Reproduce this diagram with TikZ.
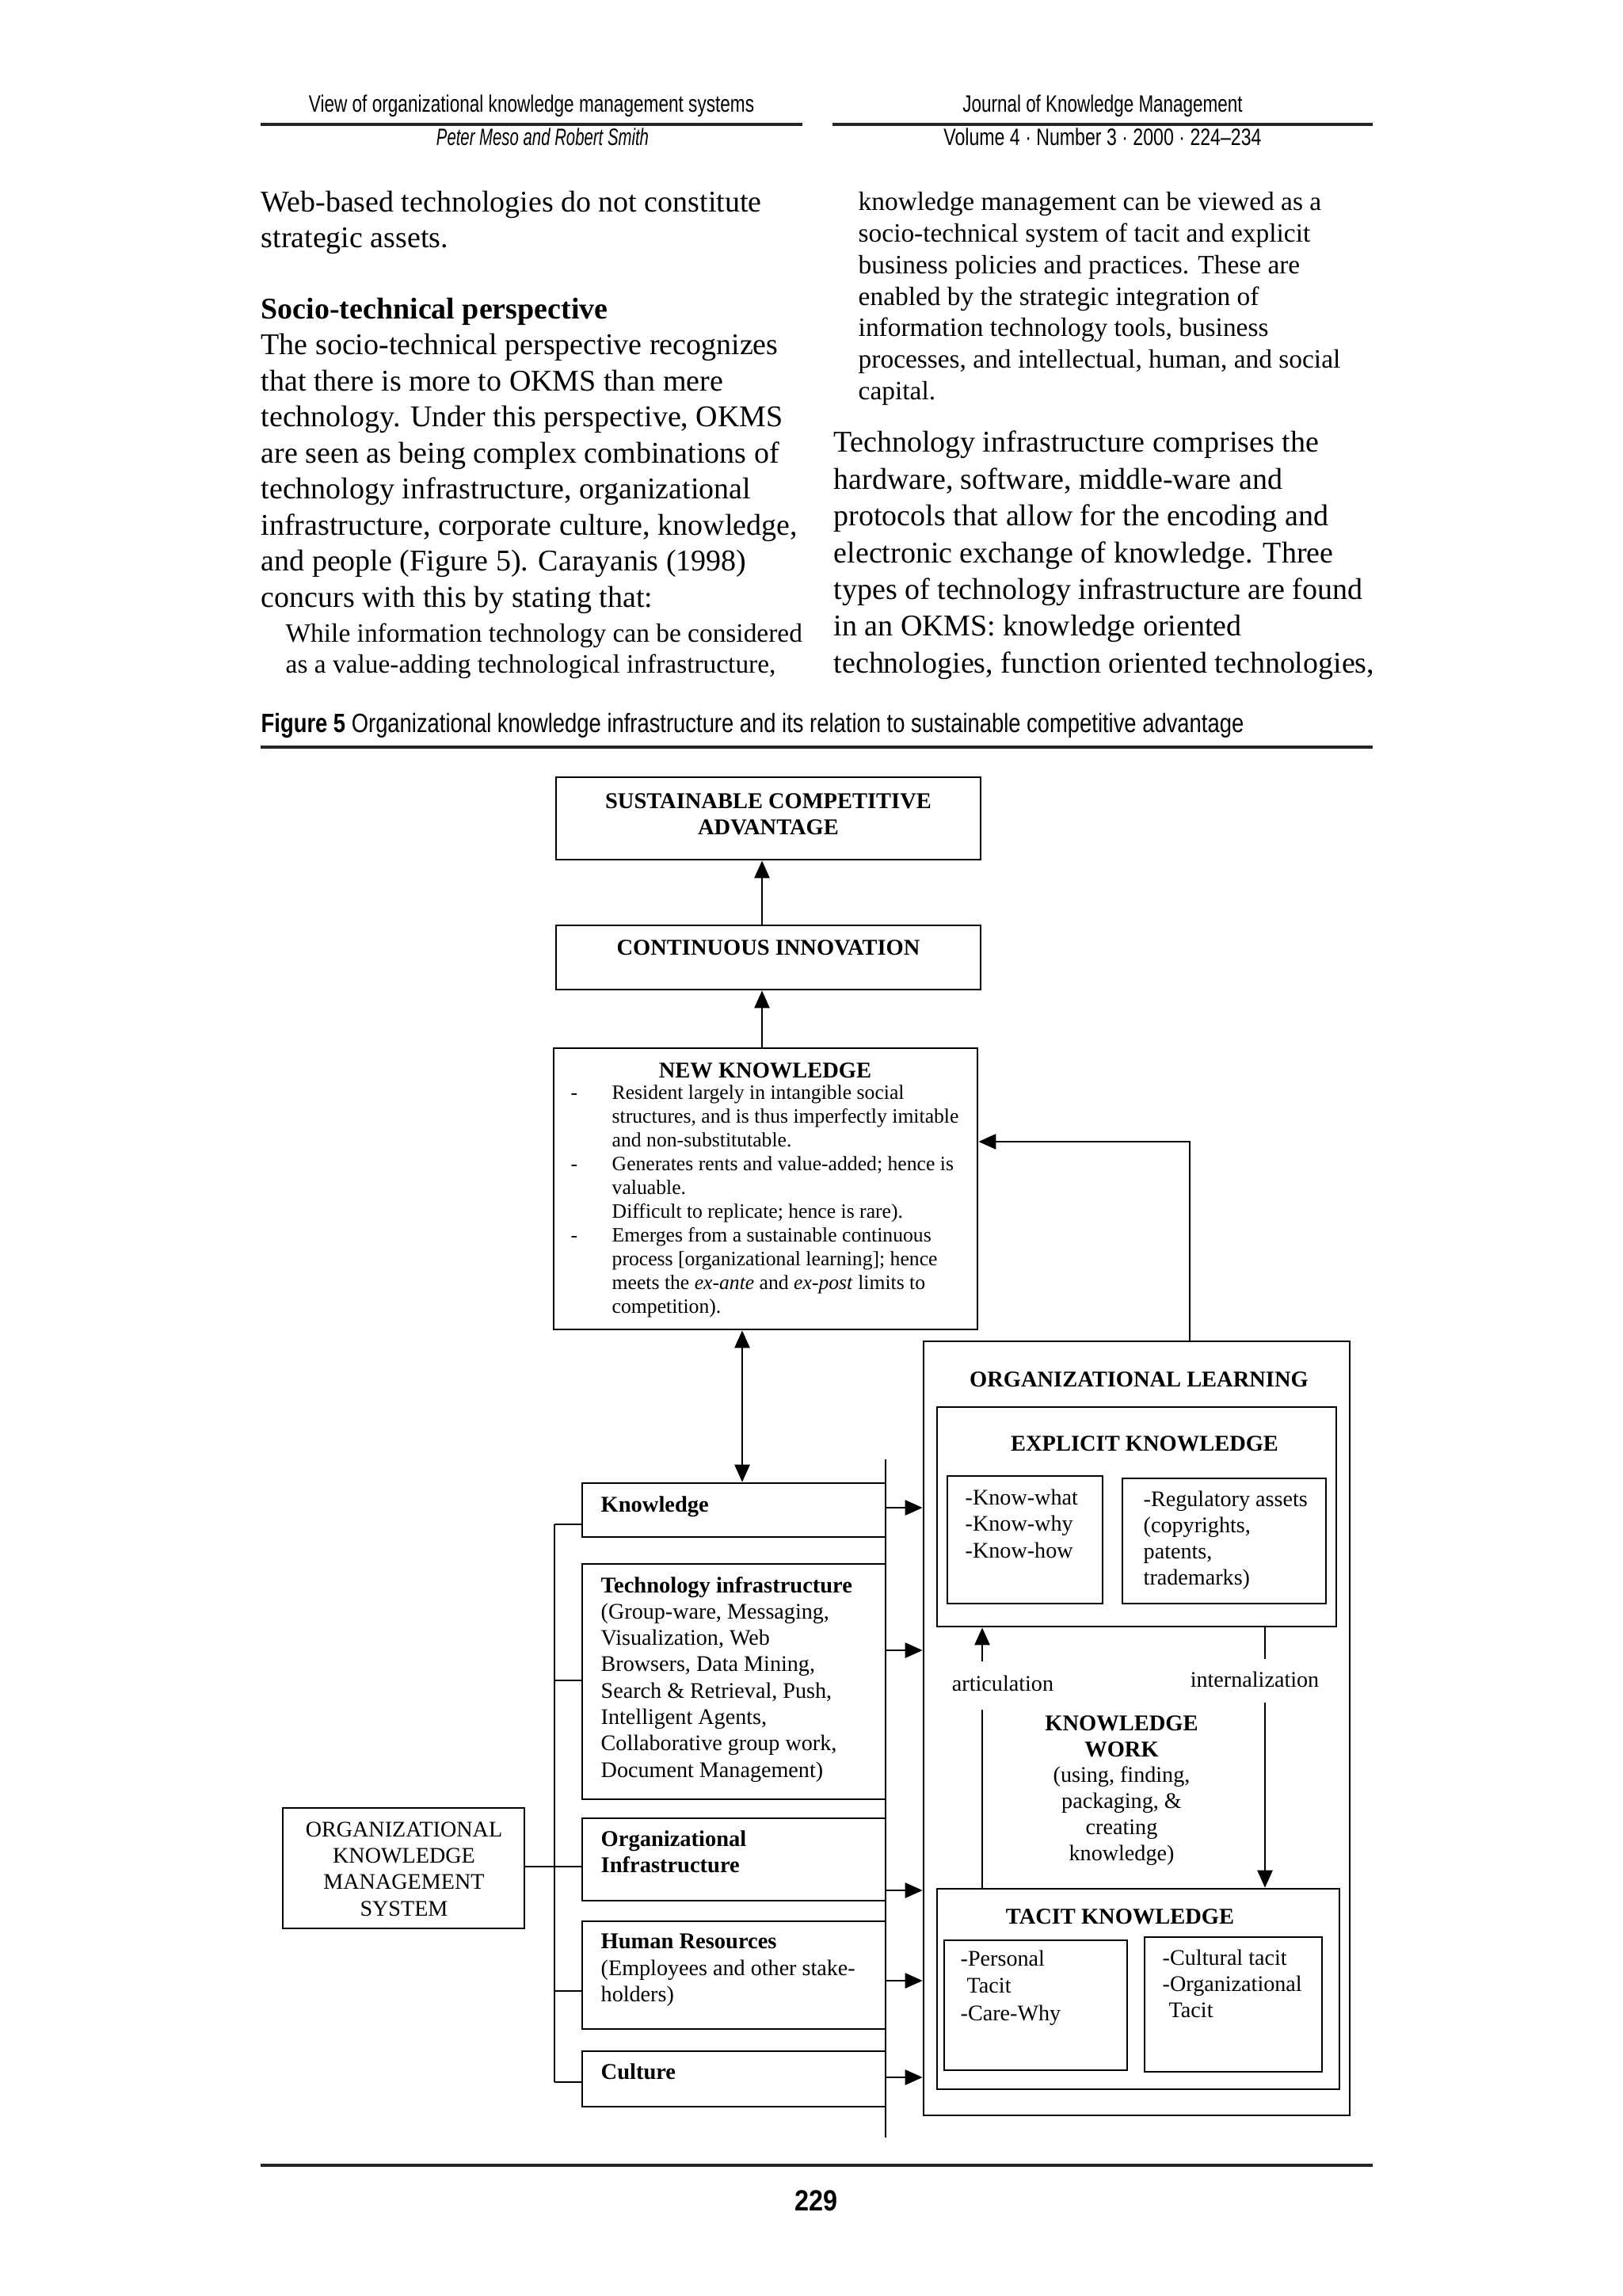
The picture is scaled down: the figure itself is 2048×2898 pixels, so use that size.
\documentclass[tikz,border=0pt]{standalone}
\usepackage{graphicx}
\usepackage{fontspec}
\setmainfont{Liberation Serif}
\newfontfamily\hsans{Liberation Sans}
\usetikzlibrary{arrows.meta,fit}
\newcommand\fitw[2]{\resizebox{#1}{\height}{#2}}
\begin{document}
\begin{tikzpicture}[x=0.01cm,y=-0.01cm,
  box/.style={draw, line width=0.75pt, inner sep=0pt},
  ln/.style={line width=0.75pt},
  arr/.style={line width=0.75pt, -{Triangle[length=0.22cm,width=0.19cm]}},
  dbl/.style={line width=0.75pt, {Triangle[length=0.22cm,width=0.19cm]}-{Triangle[length=0.22cm,width=0.19cm]}},
  rule/.style={line width=1pt, black!85},
  body/.style={font=\fontsize{10.8}{13}\selectfont, anchor=base west, inner sep=0pt},
  quotetxt/.style={font=\fontsize{9.5}{11}\selectfont, anchor=base west, inner sep=0pt},
  hdr/.style={anchor=base, inner sep=0pt},
  dt/.style={font=\fontsize{8}{9.4}\selectfont, anchor=base west, inner sep=0pt},
  dtc/.style={font=\fontsize{8}{9.4}\selectfont, anchor=base, inner sep=0pt},
  dtb/.style={font=\fontsize{8.1}{9.4}\selectfont\bfseries, anchor=base, inner sep=0pt},
  dtbw/.style={font=\fontsize{8.1}{9.4}\selectfont\bfseries, anchor=base west, inner sep=0pt},
  nkt/.style={font=\fontsize{7.3}{8.5}\selectfont, anchor=base west, inner sep=0pt},
]
\fill[white] (0,0) rectangle (2048,2898);
\useasboundingbox (0,0) rectangle (2048,2898);

% ---------- running head ----------
\node[hdr] (h1) at (671,142) {\fitw{5.62cm}{\hsans\fontsize{8.5}{10}\selectfont View of organizational knowledge management systems}};
\node[hdr] (h2) at (685,184) {\fitw{2.68cm}{\hsans\itshape\fontsize{8.5}{10}\selectfont Peter Meso and Robert Smith}};
\node[hdr] (h3) at (1392,142) {\fitw{3.53cm}{\hsans\fontsize{8.5}{10}\selectfont Journal of Knowledge Management}};
\node[hdr] (h4) at (1392,184) {\fitw{4.01cm}{\hsans\fontsize{8.5}{10}\selectfont Volume 4 · Number 3 · 2000 · 224–234}};
\draw[rule] (329,157) -- (1013,157);
\draw[rule] (1051,157) -- (1733,157);

% ---------- left column ----------
\node[body] (l0) at (329,268) {Web-based technologies do not constitute};
\node[body] (l1) at (329,313) {strategic assets.};
\node[body, font=\fontsize{10.8}{13}\selectfont\bfseries] (lh) at (329,403) {Socio-technical perspective};
\foreach \t [count=\i from 0] in {{The socio-technical perspective recognizes},
  {that there is more to OKMS than mere},
  {technology. Under this perspective, OKMS},
  {are seen as being complex combinations of},
  {technology infrastructure, organizational},
  {infrastructure, corporate culture, knowledge,},
  {and people (Figure 5). Carayanis (1998)},
  {concurs with this by stating that:}}
  \node[body] (lb\i) at (329,448+45.5*\i) {\t};
\node[quotetxt] (q0) at (360,811) {While information technology can be considered};
\node[quotetxt] (q1) at (360,850) {as a value-adding technological infrastructure,};

% ---------- right column ----------
\foreach \t [count=\i from 0] in {{knowledge management can be viewed as a},
  {socio-technical system of tacit and explicit},
  {business policies and practices. These are},
  {enabled by the strategic integration of},
  {information technology tools, business},
  {processes, and intellectual, human, and social},
  {capital.}}
  \node[quotetxt] (rq\i) at (1083,266+39.7*\i) {\t};
\foreach \t [count=\i from 0] in {{Technology infrastructure comprises the},
  {hardware, software, middle-ware and},
  {protocols that allow for the encoding and},
  {electronic exchange of knowledge. Three},
  {types of technology infrastructure are found},
  {in an OKMS: knowledge oriented},
  {technologies, function oriented technologies,}}
  \node[body] (rb\i) at (1052,571+46.4*\i) {\t};

% ---------- caption ----------
\node[anchor=base west, inner sep=0pt] (cap) at (329,925) {\fitw{12.40cm}{\hsans\fontsize{9.5}{11}\selectfont\textbf{Figure 5} Organizational knowledge infrastructure and its relation to sustainable competitive advantage}};
\draw[rule] (329,943) -- (1733,943);

% ---------- top boxes ----------
\node[box, fit={(702,981) (1238,1085)}] (sca) {};
\node[dtb] (scat1) at (970,1020) {SUSTAINABLE COMPETITIVE};
\node[dtb] (scat2) at (970,1053) {ADVANTAGE};
\node[box, fit={(702,1168) (1238,1249)}] (ci) {};
\node[dtb] (cit) at (970,1205) {CONTINUOUS INNOVATION};
\node[box, fit={(699,1323) (1234,1678)}] (nk) {};
\node[dtb] (nkt) at (966,1360) {NEW KNOWLEDGE};
\foreach \t [count=\i from 0] in {{Resident largely in intangible social},
  {structures, and is thus imperfectly imitable},
  {and non-substitutable.},
  {Generates rents and value-added; hence is},
  {valuable.},
  {Difficult to replicate; hence is rare).},
  {Emerges from a sustainable continuous},
  {process [organizational learning]; hence},
  {meets the \textit{ex-ante} and \textit{ex-post} limits to},
  {competition).}}
  \node[nkt] (nkl\i) at (772,1387+30*\i) {\t};
\foreach \i in {0,3,6}
  \node[nkt] (nkd\i) at (720,1387+30*\i) {-};

\coordinate (ux) at (962,0);
\draw[arr] (ci.north -| ux) -- (sca.south -| ux);
\draw[arr] (nk.north -| ux) -- (ci.south -| ux);

% ---------- organizational learning ----------
\node[box, fit={(1166,1693) (1704,2670)}] (ol) {};
\node[dtb] (olt) at (1438,1750) {ORGANIZATIONAL LEARNING};
\node[box, fit={(1183,1776) (1687,2053)}] (ek) {};
\node[dtb] (ekt) at (1445,1831) {EXPLICIT KNOWLEDGE};
\node[box, fit={(1196,1863) (1392,2024)}] (eka) {};
\node[box, fit={(1417,1866) (1674,2024)}] (ekb) {};
\foreach \t [count=\i from 0] in {{-Know-what},{-Know-why},{-Know-how}}
  \node[dt] (ekat\i) at (1218,1899+33.5*\i) {\t};
\foreach \t [count=\i from 0] in {{-Regulatory assets},{(copyrights,},{patents,},{trademarks)}}
  \node[dt] (ekbt\i) at (1443,1901+33.3*\i) {\t};

\node[box, fit={(1183,2384) (1691,2637)}] (tk) {};
\node[dtb] (tkt) at (1414,2428) {TACIT KNOWLEDGE};
\node[box, fit={(1192,2449) (1423,2613)}] (tka) {};
\node[box, fit={(1445,2445) (1669,2615)}] (tkb) {};
\node[dt] (tka0) at (1212,2481) {-Personal};
\node[dt] (tka1) at (1220,2515) {Tacit};
\node[dt] (tka2) at (1212,2550) {-Care-Why};
\node[dt] (tkb0) at (1467,2480) {-Cultural tacit};
\node[dt] (tkb1) at (1467,2513) {-Organizational};
\node[dt] (tkb2) at (1475,2546) {Tacit};

\node[dtb] (kw0) at (1416,2184) {KNOWLEDGE};
\node[dtb] (kw1) at (1416,2217) {WORK};
\foreach \t [count=\i from 0] in {{(using, finding,},{packaging, \&},{creating},{knowledge)}}
  \node[dtc] (kwl\i) at (1416,2249+33*\i) {\t};

\node[dtc] (art) at (1266,2134) {articulation};
\node[dtc] (int) at (1584,2129) {internalization};
\coordinate (ax) at (1240,0);
\coordinate (a1) at (1240,2097);
\coordinate (a2) at (1240,2158);
\draw[arr] (a1) -- (ek.south -| ax);
\draw[ln] (a2) -- (tk.north -| ax);
\coordinate (ix) at (1597,0);
\coordinate (i1) at (1597,2094);
\coordinate (i2) at (1597,2149);
\draw[ln] (ek.south -| ix) -- (i1);
\draw[arr] (i2) -- (tk.north -| ix);

% feedback arrow
\coordinate (fbx) at (1502,0);
\coordinate (fby) at (0,1441);
\draw[arr] (ol.north -| fbx) |- (nk.east |- fby);

% ---------- left components ----------
\node[box, fit={(357,2282) (662,2434)}] (okms) {};
\foreach \t [count=\i from 0] in {{ORGANIZATIONAL},{KNOWLEDGE},{MANAGEMENT},{SYSTEM}}
  \node[dtc] (okt\i) at (510,2318+33.4*\i) {\t};

\node[box, fit={(735,1872) (1118,1940)}] (know) {};
\node[dtbw] (knowt) at (758,1908) {Knowledge};
\node[box, fit={(735,1974) (1118,2271)}] (tech) {};
\node[dtbw] (techt) at (758,2010) {Technology infrastructure};
\foreach \t [count=\i from 1] in {{(Group-ware, Messaging,},{Visualization, Web},{Browsers, Data Mining,},
  {Search \& Retrieval, Push,},{Intelligent Agents,},{Collaborative group work,},{Document Management)}}
  \node[dt] (techl\i) at (758,2010+33.3*\i) {\t};
\node[box, fit={(735,2295) (1118,2399)}] (org) {};
\node[dtbw] (orgt0) at (758,2330) {Organizational};
\node[dtbw] (orgt1) at (758,2363) {Infrastructure};
\node[box, fit={(735,2425) (1118,2561)}] (hr) {};
\node[dtbw] (hrt) at (758,2459) {Human Resources};
\node[dt] (hrl1) at (758,2493) {(Employees and other stake-};
\node[dt] (hrl2) at (758,2526) {holders)};
\node[box, fit={(735,2589) (1118,2659)}] (cult) {};
\node[dtbw] (cultt) at (758,2624) {Culture};

\coordinate (vt) at (1118,1842);
\coordinate (vb) at (1118,2698);
\draw[ln] (vt) -- (vb);
\foreach \yy [count=\i] in {1903,2083,2386,2500,2622} {
  \coordinate (ay\i) at (0,\yy);
  \draw[arr] (vt |- ay\i) -- (ol.west |- ay\i);
}

\coordinate (busx) at (700,0);
\foreach \bx/\yy in {know/1924, tech/2121, org/2356, hr/2513, cult/2628} {
  \coordinate (br-\bx) at (0,\yy);
  \draw[ln] (busx |- br-\bx) -- (\bx.west |- br-\bx);
}
\draw[ln] (busx |- br-know) -- (busx |- br-cult);
\draw[ln] (okms.east |- br-org) -- (busx |- br-org);

\coordinate (dx) at (937,0);
\draw[dbl] (nk.south -| dx) -- (know.north -| dx);

% ---------- foot ----------
\draw[rule] (329,2733) -- (1733,2733);
\node[hdr] (pg) at (1030,2790) {\fitw{0.54cm}{\hsans\bfseries\fontsize{10.5}{12}\selectfont 229}};
\end{tikzpicture}
\end{document}
